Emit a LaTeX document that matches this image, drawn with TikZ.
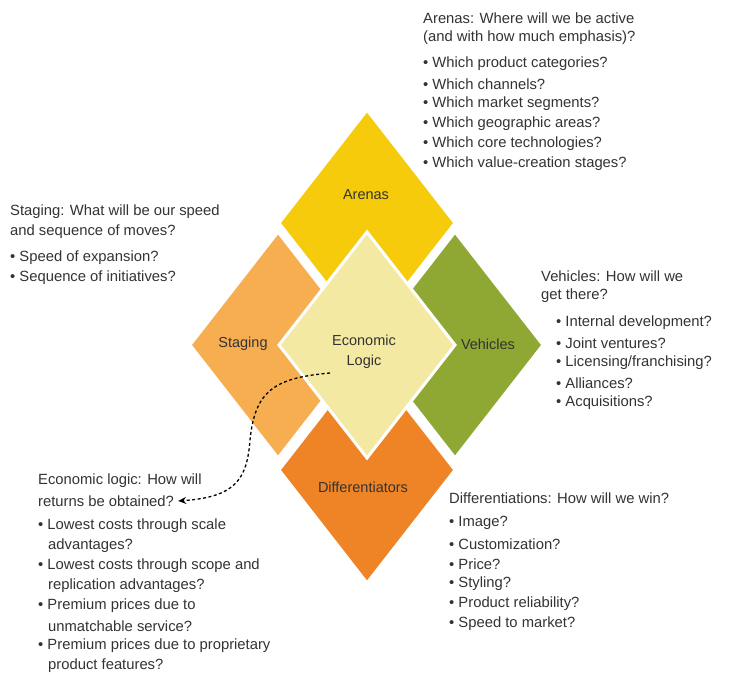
\documentclass[tikz,border=0pt]{standalone}
\usepackage{fontspec}
\setmainfont{Liberation Sans}
\usetikzlibrary{shapes.geometric,arrows.meta}
\definecolor{cAr}{HTML}{F6CB0C}
\definecolor{cSt}{HTML}{F7AE50}
\definecolor{cVe}{HTML}{8FA834}
\definecolor{cDi}{HTML}{EF8426}
\definecolor{cEc}{HTML}{F4E9A3}
\definecolor{tx}{HTML}{333333}
\begin{document}
\begin{tikzpicture}[x=1pt,y=-1pt,
  dia/.style={draw=white,line width=3pt,line join=miter},
  lab/.style={font=\fontsize{14.5}{16}\selectfont,text=tx,anchor=center,inner sep=0},
  txt/.style={font=\fontsize{14.8}{16}\selectfont,text=tx,anchor=west,inner sep=0}]
\fill[white] (0,0) rectangle (729,676);
\useasboundingbox (0,0) rectangle (729,676);
\newcommand\dmd[3]{\filldraw[dia,fill=#3] (#1,#2-113) -- (#1+88,#2) -- (#1,#2+113) -- (#1-88,#2) -- cycle;}
\dmd{367}{223}{cAr}
\dmd{278}{345}{cSt}
\dmd{455}{345}{cVe}
\dmd{367}{470}{cDi}
\dmd{367}{345}{cEc}
\node[lab] (ar) at (366,195) {Arenas};
\node[lab] (st) at (243,344) {Staging};
\node[lab] (ve) at (488,344) {Vehicles};
\node[lab] (di) at (363,487) {Differentiators};
\node[lab,align=center,font=\fontsize{14.5}{20}\selectfont] (ec) at (364,352) {Economic\\Logic};
\coordinate (s) at (330,373);
% Arenas
\node[txt] (a1) at (423,18) {Arenas: Where will we be active};
\node[txt] (a2) at (423,38) {(and with how much emphasis)?};
\node[txt] (a3) at (423,64) {• Which product categories?};
\node[txt] (a4) at (423,84) {• Which channels?};
\node[txt] (a5) at (423,104) {• Which market segments?};
\node[txt] (a6) at (423,124) {• Which geographic areas?};
\node[txt] (a7) at (423,144) {• Which core technologies?};
\node[txt] (a8) at (423,164) {• Which value-creation stages?};
% Staging
\node[txt] (s1) at (10,212) {Staging: What will be our speed};
\node[txt] (s2) at (10,232) {and sequence of moves?};
\node[txt] (s3) at (10,258) {• Speed of expansion?};
\node[txt] (s4) at (10,278) {• Sequence of initiatives?};
% Vehicles
\node[txt] (v1) at (541,276) {Vehicles: How will we};
\node[txt] (v2) at (541,296) {get there?};
\node[txt] (v3) at (556,323) {• Internal development?};
\node[txt] (v4) at (556,343) {• Joint ventures?};
\node[txt] (v5) at (556,363) {• Licensing/franchising?};
\node[txt] (v6) at (556,383) {• Alliances?};
\node[txt] (v7) at (556,403) {• Acquisitions?};
% Economic logic
\node[txt] (e1) at (38,481) {Economic logic: How will};
\node[txt] (e2) at (38,501) {returns be obtained?};
\node[txt] (e3) at (38,526) {• Lowest costs through scale};
\node[txt] (e4) at (48,546) {advantages?};
\node[txt] (e5) at (38,566) {• Lowest costs through scope and};
\node[txt] (e6) at (48,586) {replication advantages?};
\node[txt] (e7) at (38,606) {• Premium prices due to};
\node[txt] (e8) at (48,626) {unmatchable service?};
\node[txt] (e9) at (38,646) {• Premium prices due to proprietary};
\node[txt] (e10) at (48,666) {product features?};
% Differentiations
\node[txt] (d1) at (449,498) {Differentiations: How will we win?};
\node[txt] (d2) at (449,523) {• Image?};
\node[txt] (d3) at (449,544) {• Customization?};
\node[txt] (d4) at (449,564) {• Price?};
\node[txt] (d5) at (449,584) {• Styling?};
\node[txt] (d6) at (449,604) {• Product reliability?};
\node[txt] (d7) at (449,624) {• Speed to market?};
\draw[line width=1.3pt,dash pattern=on 3pt off 2.5pt,-{Stealth[length=8pt,width=7pt]}]
  (s) .. controls (275,378) and (255,390) .. (250,440)
  .. controls (247,480) and (235,497) .. ([xshift=4pt]e2.east);
\end{tikzpicture}
\end{document}
